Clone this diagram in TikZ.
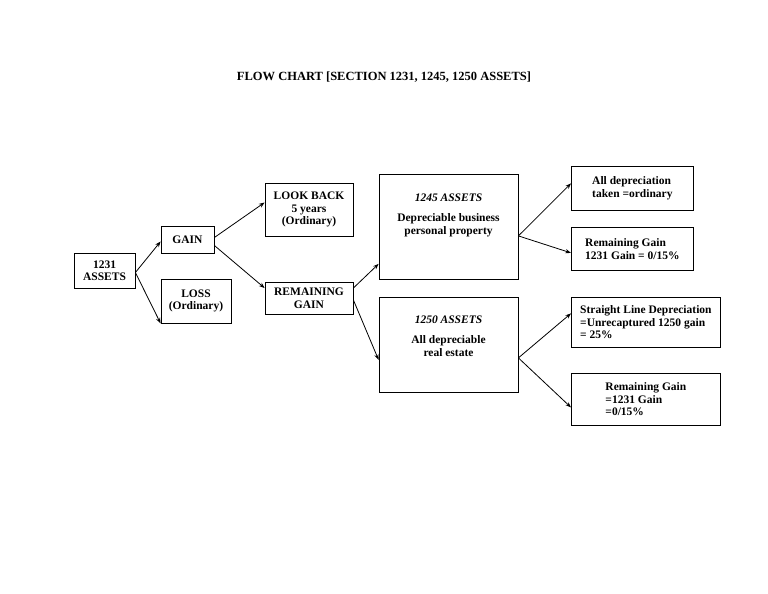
\documentclass[tikz,border=0pt]{standalone}
\usepackage{fontspec}
\setmainfont{Liberation Serif}
\usetikzlibrary{arrows.meta,positioning}
\begin{document}
\begin{tikzpicture}[
    x=1pt, y=-1pt,
    box/.style={draw, thick, font=\fontsize{11.5}{12.5}\selectfont\bfseries, align=center, inner sep=2pt},
    lbox/.style={draw, thick, font=\fontsize{11.5}{12.5}\selectfont\bfseries, align=left, inner sep=4pt, anchor=north west},
    arrow/.style={-{Stealth[length=2mm]}, thick}
]
\useasboundingbox (0,0) rectangle (768,594);
% Title
\node[font=\fontsize{12.5}{14}\selectfont\bfseries] (title) at (384,77) {FLOW CHART [SECTION 1231, 1245, 1250 ASSETS]};

% Left part
\node[box, minimum width=61, minimum height=35] (assets) at (104.5,270.5) {1231\\ASSETS};
\node[box, minimum width=53, minimum height=27] (gain) at (187.5,239.5) {GAIN};
\node[box, minimum width=70, minimum height=44] (loss) at (196,301) {LOSS\\(Ordinary)};
\node[box, minimum width=88, minimum height=53] (look) at (309,209.5) {LOOK BACK\\5 years\\(Ordinary)};
\node[box, minimum width=88, minimum height=32] (remain) at (309,298) {REMAINING\\GAIN};

% Asset classes
\node[box, minimum width=139, minimum height=105, anchor=north] (a1245) at (448.5,174) {};
\node[box, draw=none, anchor=north] (t1245) at (448.5,191) {\textit{1245 ASSETS}\\[8pt]Depreciable business\\personal property};
\node[box, minimum width=139, minimum height=95, anchor=north] (a1250) at (448.5,297) {};
\node[box, draw=none, anchor=north] (t1250) at (448.5,313) {\textit{1250 ASSETS}\\[8pt]All depreciable\\real estate};

% Results
\node[lbox, minimum width=122, minimum height=44] (ord) at (571,166) {All depreciation\\taken =ordinary};
\node[lbox, minimum width=122, minimum height=43] (rg1) at (571,227) {Remaining Gain\\1231 Gain = 0/15\%};
\node[lbox, minimum width=149, minimum height=50] (sl) at (571,297) {Straight Line Depreciation\\=Unrecaptured 1250 gain\\= 25\%};
\node[lbox, minimum width=149, minimum height=52] (rg2) at (571,373) {Remaining Gain\\=1231 Gain\\=0/15\%};

\draw[arrow] ([yshift=-2]assets.east) -- ([yshift=-2]gain.west);
\draw[arrow] ([yshift=-2]assets.east) -- (loss.south west);
\draw[arrow] ([yshift=2]gain.east) -- ([yshift=7]look.west);
\draw[arrow] ([yshift=-6]gain.east) -- ([yshift=10]remain.west);
\draw[arrow] ([yshift=10]remain.east) -- ([yshift=-37]a1245.west);
\draw[arrow] ([yshift=-2]remain.east) -- ([yshift=-15]a1250.west);
\draw[arrow] ([yshift=-9]a1245.east) -- ([yshift=5]ord.west);
\draw[arrow] ([yshift=-9]a1245.east) -- ([yshift=-4]rg1.west);
\draw[arrow] ([yshift=-13]a1250.east) -- ([yshift=9]sl.west);
\draw[arrow] ([yshift=-13]a1250.east) -- ([yshift=-8]rg2.west);
\end{tikzpicture}
\end{document}
